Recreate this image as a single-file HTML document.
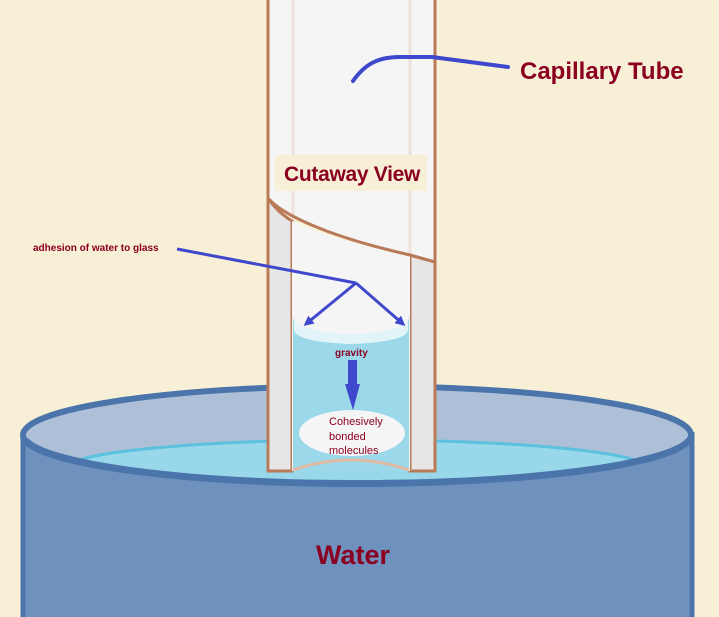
<!DOCTYPE html>
<html><head><meta charset="utf-8"><style>
html,body{margin:0;padding:0;background:#f8f0d6;}
svg{display:block;}
text{font-family:"Liberation Sans",sans-serif;font-weight:bold;fill:#8b0020;}
</style></head><body>
<svg width="719" height="617" viewBox="0 0 719 617" xmlns="http://www.w3.org/2000/svg">
<defs>
<clipPath id="cont"><ellipse cx="357" cy="435" rx="331" ry="46"/></clipPath>
<marker id="ah" markerWidth="10" markerHeight="10" refX="7" refY="5" orient="auto" markerUnits="userSpaceOnUse"><path d="M0,0 L10,5 L0,10 Z" fill="#3f48cc"/></marker>
</defs>
<rect width="719" height="617" fill="#f8f0d6"/>
<rect x="23" y="432" width="669" height="190" fill="#6e91bd"/>
<path d="M23,432 L23,617 M692,432 L692,617" stroke="#4a74aa" stroke-width="5"/>
<ellipse cx="357" cy="435" rx="334" ry="49" fill="#adc0d8" stroke="#4a74aa" stroke-width="6"/>
<g clip-path="url(#cont)">
<ellipse cx="357" cy="468" rx="290" ry="28" fill="#99d8ea" stroke="#5bc1dc" stroke-width="3"/>
</g>
<path d="M26,440 A334,49 0 0 0 689,440" fill="none" stroke="#4a74aa" stroke-width="6"/>
<path d="M268,0 L435,0 L435,262 L410,255 C330,235 280,215 268,198 Z" fill="#f5f5f5"/>
<line x1="293" y1="0" x2="293" y2="222" stroke="#eee0da" stroke-width="3"/>
<line x1="410" y1="0" x2="410" y2="255" stroke="#eee0da" stroke-width="3"/>
<path d="M268,198 C273,206 282,215 292,221 L292,471 L268,471 Z" fill="#e6e6e6" stroke="#b97a57" stroke-width="3"/>
<path d="M410,255 L435,262 L435,471 L410,471 Z" fill="#e6e6e6" stroke="#b97a57" stroke-width="3"/>
<path d="M292,221 C330,238 370,248 410,255 L410,471 L292,471 Z" fill="#f5f5f5"/>
<path d="M293,315 L293,471 L409,471 L409,315 Q409,340 351,342 Q293,340 293,315 Z" fill="#9bd8ea"/>
<path d="M294,318 Q296,332 351,334 Q406,332 408,318 L408,330 Q406,342 351,344 Q296,342 294,330 Z" fill="#e2f4f8"/>
<path d="M293,470 Q351,450 409,470" fill="none" stroke="#e0b9a3" stroke-width="3"/>
<line x1="268" y1="0" x2="268" y2="472" stroke="#b97a57" stroke-width="3"/>
<line x1="435" y1="0" x2="435" y2="472" stroke="#b97a57" stroke-width="3"/>
<path d="M268,198 C282,215 330,237 410,255 L435,262" fill="none" stroke="#b97a57" stroke-width="3"/>
<line x1="268" y1="471" x2="292" y2="471" stroke="#b97a57" stroke-width="3"/>
<line x1="410" y1="471" x2="435" y2="471" stroke="#b97a57" stroke-width="3"/>
<rect x="275" y="155" width="152" height="36" fill="#f8f0d6"/>
<text x="284" y="181" font-size="21" letter-spacing="-0.3">Cutaway View</text>
<path d="M353,81 C365,64 378,57 400,57 L432,57 L508,67" fill="none" stroke="#3f48cc" stroke-width="4" stroke-linecap="round"/>
<text x="520" y="79" font-size="24">Capillary Tube</text>
<text x="33" y="251" font-size="10">adhesion of water to glass</text>
<polyline points="177,249 356,283" fill="none" stroke="#3f48cc" stroke-width="3"/>
<line x1="356" y1="283" x2="306" y2="324" stroke="#3f48cc" stroke-width="3" marker-end="url(#ah)"/>
<line x1="356" y1="283" x2="403" y2="324" stroke="#3f48cc" stroke-width="3" marker-end="url(#ah)"/>
<text x="335" y="356" font-size="10">gravity</text>
<rect x="348" y="360" width="9" height="25" fill="#3f48cc"/>
<path d="M345,384 L360,384 L353,410 Z" fill="#3f48cc"/>
<ellipse cx="352" cy="433" rx="53" ry="23" fill="#f5f5f5"/>
<text x="329" y="425" font-size="11" style="font-weight:normal">Cohesively</text>
<text x="329" y="440" font-size="11" style="font-weight:normal">bonded</text>
<text x="329" y="454" font-size="11" style="font-weight:normal">molecules</text>
<text x="316" y="564" font-size="27">Water</text>
</svg>
</body></html>
